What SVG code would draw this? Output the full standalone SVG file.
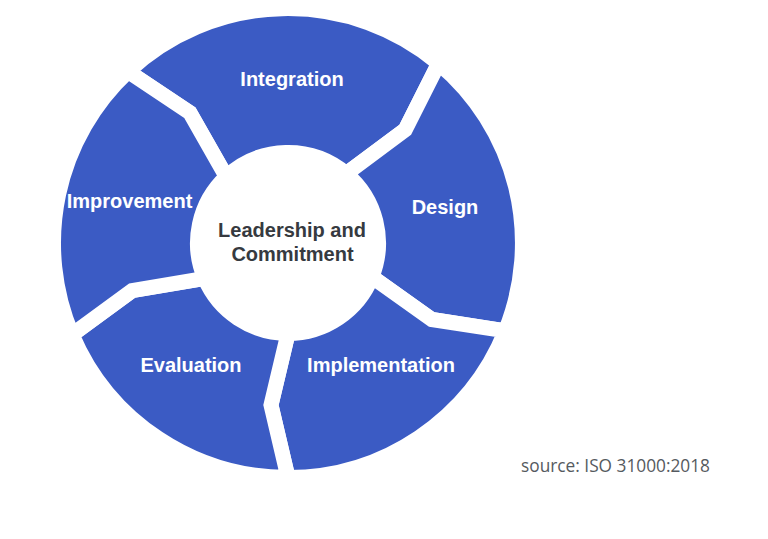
<svg xmlns="http://www.w3.org/2000/svg" width="768" height="539" viewBox="0 0 768 539">
<style>
.seg{fill:#3b5bc4;stroke:#fff;stroke-width:15;stroke-linejoin:miter}
.lbl{font-family:"Liberation Sans",Arial,sans-serif;font-weight:bold;font-size:20px;fill:#fff;text-anchor:middle}
.ctr{font-family:"Liberation Sans",Arial,sans-serif;font-weight:bold;font-size:20px;fill:#363a40;text-anchor:middle}
.src{font-family:"Open Sans",sans-serif;font-size:17.3px;fill:#555a60}
</style>
<rect width="768" height="539" fill="#fff"/>
<g id="integration">
<path class="seg" d="M 128.1 71.5 A 234.5 234.5 0 0 1 438.7 63.4 L 405.2 129.8 L 346.2 173.7 A 90.5 90.5 0 0 0 226.3 176.8 L 189.9 112.8 Z"/>
<text class="lbl" x="292" y="86">Integration</text>
</g>
<g id="design">
<path class="seg" d="M 438.7 63.4 A 234.5 234.5 0 0 1 505.4 330.8 L 431.9 319.5 L 371.9 276.9 A 90.5 90.5 0 0 0 346.2 173.7 L 405.2 129.8 Z"/>
<text class="lbl" x="445" y="214">Design</text>
</g>
<g id="implementation">
<path class="seg" d="M 505.4 330.8 A 234.5 234.5 0 0 1 288 477.5 L 271 405.1 L 288 333.5 A 90.5 90.5 0 0 0 371.9 276.9 L 431.9 319.5 Z"/>
<text class="lbl" x="381" y="372">Implementation</text>
</g>
<g id="evaluation">
<path class="seg" d="M 288 477.5 A 234.5 234.5 0 0 1 72.1 334.6 L 132.1 290.7 L 204.7 278.4 A 90.5 90.5 0 0 0 288 333.5 L 271 405.1 Z"/>
<text class="lbl" x="191" y="372">Evaluation</text>
</g>
<g id="improvement">
<path class="seg" d="M 72.1 334.6 A 234.5 234.5 0 0 1 128.1 71.5 L 189.9 112.8 L 226.3 176.8 A 90.5 90.5 0 0 0 204.7 278.4 L 132.1 290.7 Z"/>
<text class="lbl" x="129.5" y="208">Improvement</text>
</g>
<g id="leadership">
<text class="ctr" x="292" y="237">Leadership and</text>
<text class="ctr" x="292.5" y="261">Commitment</text>
</g>
<g id="connectors"></g>
<text class="src" x="521" y="472">source: ISO 31000:2018</text>
</svg>
